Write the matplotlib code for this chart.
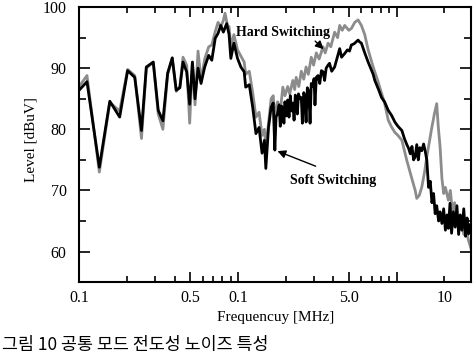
import numpy as np
import matplotlib
matplotlib.use('Agg')
import matplotlib.pyplot as plt

plt.rcParams['font.family'] = ['Liberation Serif', 'DejaVu Serif']

# soft switching (black)
soft_f = [0.100, 0.112, 0.134, 0.156, 0.180, 0.202, 0.224, 0.247, 0.265, 0.293,
          0.315, 0.337, 0.361, 0.386, 0.409, 0.431, 0.451, 0.476, 0.497, 0.517,
          0.537, 0.561, 0.586, 0.618, 0.655, 0.685, 0.72, 0.75, 0.78, 0.81,
          0.85, 0.88, 0.903, 0.944, 0.995, 1.044, 1.096, 1.12, 1.18, 1.24,
          1.30, 1.36, 1.42, 1.47, 1.50, 1.56, 1.62, 1.67, 1.71, 1.74,
          1.78, 1.82, 1.85, 1.88, 1.92, 1.95, 1.98, 2.02, 2.06, 2.10,
          2.14, 2.18, 2.22, 2.26, 2.30, 2.33, 2.37, 2.41, 2.46, 2.51,
          2.55, 2.60, 2.64, 2.69, 2.74, 2.80, 2.85, 2.90, 2.96, 3.02,
          3.06, 3.12, 3.20, 3.28, 3.36, 3.44, 3.52, 3.60, 3.70, 3.78,
          3.90, 4.07, 4.20, 4.38, 4.50, 4.71, 4.90, 5.05, 5.19, 5.40,
          5.72, 5.85, 6.00, 6.30, 6.62, 7.12, 7.29, 7.70, 8.04, 8.40,
          8.86, 9.29, 9.75, 10.2, 10.8, 11.2, 11.6, 11.9, 12.2, 12.5,
          12.8, 13.1, 13.4, 13.7, 14.0, 14.4, 14.8, 15.1, 15.5, 15.9,
          16.3, 16.7, 17.1, 17.5, 17.9, 18.4, 18.8, 19.3, 19.8, 20.3,
          20.8, 21.2, 21.7, 22.2, 22.8, 23.4, 24.0, 24.6, 25.2, 25.8,
          26.5, 27.2, 27.8, 28.4, 29.2, 30.1]
soft_db = [86.4, 87.8, 73.8, 84.6, 82.0, 89.6, 88.5, 79.8, 90.2, 91.0,
           83.1, 81.4, 89.2, 91.7, 86.4, 86.8, 91.0, 89.4, 84.1, 91.0,
           85.0, 90.0, 87.5, 90.2, 92.1, 91.3, 94.9, 95.7, 97.0, 95.9,
           97.3, 95.5, 91.6, 94.1, 91.6, 90.2, 89.4, 86.9, 87.3, 83.6,
           79.3, 80.3, 76.1, 78.2, 73.6, 80.3, 83.6, 84.3, 76.6, 82.0,
           82.6, 84.0, 80.5, 83.8, 83.6, 81.0, 84.5, 82.2, 84.8, 82.0,
           85.5, 83.0, 84.3, 81.5, 85.6, 85.2, 82.5, 85.8, 85.0, 85.2,
           81.0, 86.0, 85.5, 81.2, 86.8, 86.2, 81.0, 87.5, 87.0, 88.3,
           84.0, 88.5, 88.8, 87.5, 89.6, 89.4, 88.0, 90.0, 90.5, 90.8,
           89.5, 90.2, 91.5, 93.2, 91.8, 92.4, 93.0, 92.8, 93.8, 94.0,
           94.6, 94.3, 94.1, 92.5, 91.0, 89.0, 88.0, 86.5, 85.2, 84.5,
           83.1, 82.3, 81.2, 80.5, 79.8, 78.5, 77.5, 76.9, 76.0, 77.2,
           75.0, 75.5, 77.5, 75.0, 77.0, 76.5, 77.6, 76.6, 75.0, 70.5,
           71.5, 68.0, 69.5, 66.2, 67.5, 65.0, 66.5, 64.6, 67.0, 63.5,
           66.0, 63.8, 67.9, 63.0, 66.5, 64.0, 67.5, 62.8, 66.0, 63.5,
           67.0, 62.5, 65.5, 62.9, 64.5, 61.8]

# hard switching (grey)
hard_f = [0.100, 0.112, 0.134, 0.156, 0.180, 0.202, 0.224, 0.247, 0.265, 0.293,
          0.315, 0.337, 0.361, 0.386, 0.409, 0.431, 0.451, 0.476, 0.497, 0.517,
          0.537, 0.561, 0.586, 0.618, 0.655, 0.685, 0.72, 0.75, 0.78, 0.81,
          0.83, 0.86, 0.88, 0.903, 0.944, 0.995, 1.044, 1.096, 1.12, 1.18,
          1.24, 1.30, 1.36, 1.42, 1.47, 1.50, 1.56, 1.62, 1.67, 1.71,
          1.78, 1.85, 1.92, 1.98, 2.06, 2.12, 2.22, 2.28, 2.33, 2.42,
          2.51, 2.60, 2.69, 2.78, 2.90, 3.00, 3.12, 3.25, 3.44, 3.55,
          3.70, 3.85, 4.07, 4.25, 4.38, 4.55, 4.71, 5.00, 5.19, 5.45,
          5.72, 6.00, 6.30, 6.62, 7.12, 7.60, 8.04, 8.40, 8.86, 9.29,
          9.75, 10.2, 10.8, 11.6, 12.4, 13.1, 13.4, 13.9, 14.4, 15.0,
          15.5, 16.1, 16.7, 17.3, 17.9, 18.3, 18.8, 19.3, 19.8, 20.3,
          21.2, 21.8, 22.5, 23.2, 24.0, 24.6, 25.5, 26.5, 27.5, 28.4,
          30.1]
hard_db = [87.0, 88.8, 73.0, 84.4, 83.0, 89.8, 88.8, 78.5, 90.0, 91.0,
           82.5, 80.0, 89.0, 91.6, 86.2, 87.0, 91.8, 90.5, 81.0, 91.0,
           84.0, 92.8, 88.0, 91.5, 93.5, 93.8, 96.0, 97.5, 96.8, 97.8,
           99.0, 97.0, 96.8, 93.5, 95.5, 93.0, 92.0, 91.0, 89.0, 89.5,
           86.0, 82.0, 82.8, 79.0, 80.0, 77.0, 81.0, 85.0, 85.5, 82.0,
           84.5, 83.0, 86.9, 85.5, 87.0, 85.8, 88.0, 86.5, 88.5, 87.0,
           89.5, 88.2, 90.2, 89.0, 91.8, 90.5, 92.5, 91.5, 93.5, 92.5,
           94.1, 93.5, 95.9, 95.0, 97.0, 96.2, 97.0, 96.2, 96.5, 97.5,
           97.9, 97.0, 95.5, 93.0, 90.2, 88.0, 85.9, 84.3, 81.5, 80.4,
           79.5, 79.0, 78.2, 74.9, 72.2, 70.0, 68.7, 69.2, 70.5, 73.0,
           75.5, 78.0, 80.4, 82.5, 84.2, 80.5, 77.1, 72.0, 69.5, 70.5,
           68.4, 70.0, 66.5, 68.0, 65.5, 64.6, 65.5, 62.8, 63.5, 61.8,
           59.7]

major_ticks = [0.1, 0.5, 1, 5, 10]
major_labels = ['0.1', '0.5', '0.1', '5.0', '']
minor_ticks = [0.2, 0.3, 0.4, 0.6, 0.7, 0.8, 0.9, 2, 3, 4, 6, 7, 8, 9, 20]
minor_labels = ['', '', '', '', '', '', '', '', '', '', '', '', '', '', '10']

fig = plt.figure(figsize=(4.74, 3.54), dpi=100)
ax = fig.add_axes([0.167, 0.203, 0.827, 0.777])

ax.plot(hard_f, hard_db, color='#8c8c8c', lw=2.0)
ax.plot(soft_f, soft_db, color='black', lw=2.0)

ax.set_xscale('log')
ax.set_xlim(0.1, 29.5)
ax.set_ylim(55, 100)
ax.set_xticks(major_ticks, major_labels)
ax.set_xticks(minor_ticks, minor_labels, minor=True)
ax.set_yticks([60, 70, 80, 90, 100])
ax.set_yticks([65, 75, 85, 95], minor=True)

for s in ax.spines.values():
    s.set_linewidth(1.5)
ax.tick_params(axis='both', which='both', direction='in', top=True, right=True,
               labelsize=11.5, width=1.2)
ax.tick_params(axis='x', which='major', length=7, pad=6)
ax.tick_params(axis='x', which='minor', length=4, pad=6)
ax.tick_params(axis='y', which='major', length=8, pad=9)
ax.tick_params(axis='y', which='minor', length=5)

ax.set_xlabel('Frequencuy [MHz]', fontsize=11)
ax.xaxis.set_label_coords(0.5, -0.105)
ax.set_ylabel('Level [dBuV]', fontsize=11)
ax.yaxis.set_label_coords(-0.105, 0.52)

ax.text(0.97, 95.9, 'Hard Switching', fontsize=10, fontweight='bold',
        ha='left', va='center')
ax.annotate('', xy=(3.57, 92.8), xytext=(2.98, 94.75),
            arrowprops=dict(arrowstyle='-|>', color='black', lw=1.0,
                            mutation_scale=12))
ax.text(2.13, 71.6, 'Soft Switching', fontsize=10, fontweight='bold',
        ha='left', va='center')
ax.annotate('', xy=(1.71, 76.6), xytext=(3.21, 73.8),
            arrowprops=dict(arrowstyle='-|>', color='black', lw=1.0,
                            mutation_scale=12))

fig.text(0.004, 0.052, '그림 10 공통 모드 전도성 노이즈 특성', fontsize=12.5,
         family=['Noto Sans CJK KR', 'DejaVu Sans'], ha='left', va='top')

fig.savefig('out.png', dpi=100)
